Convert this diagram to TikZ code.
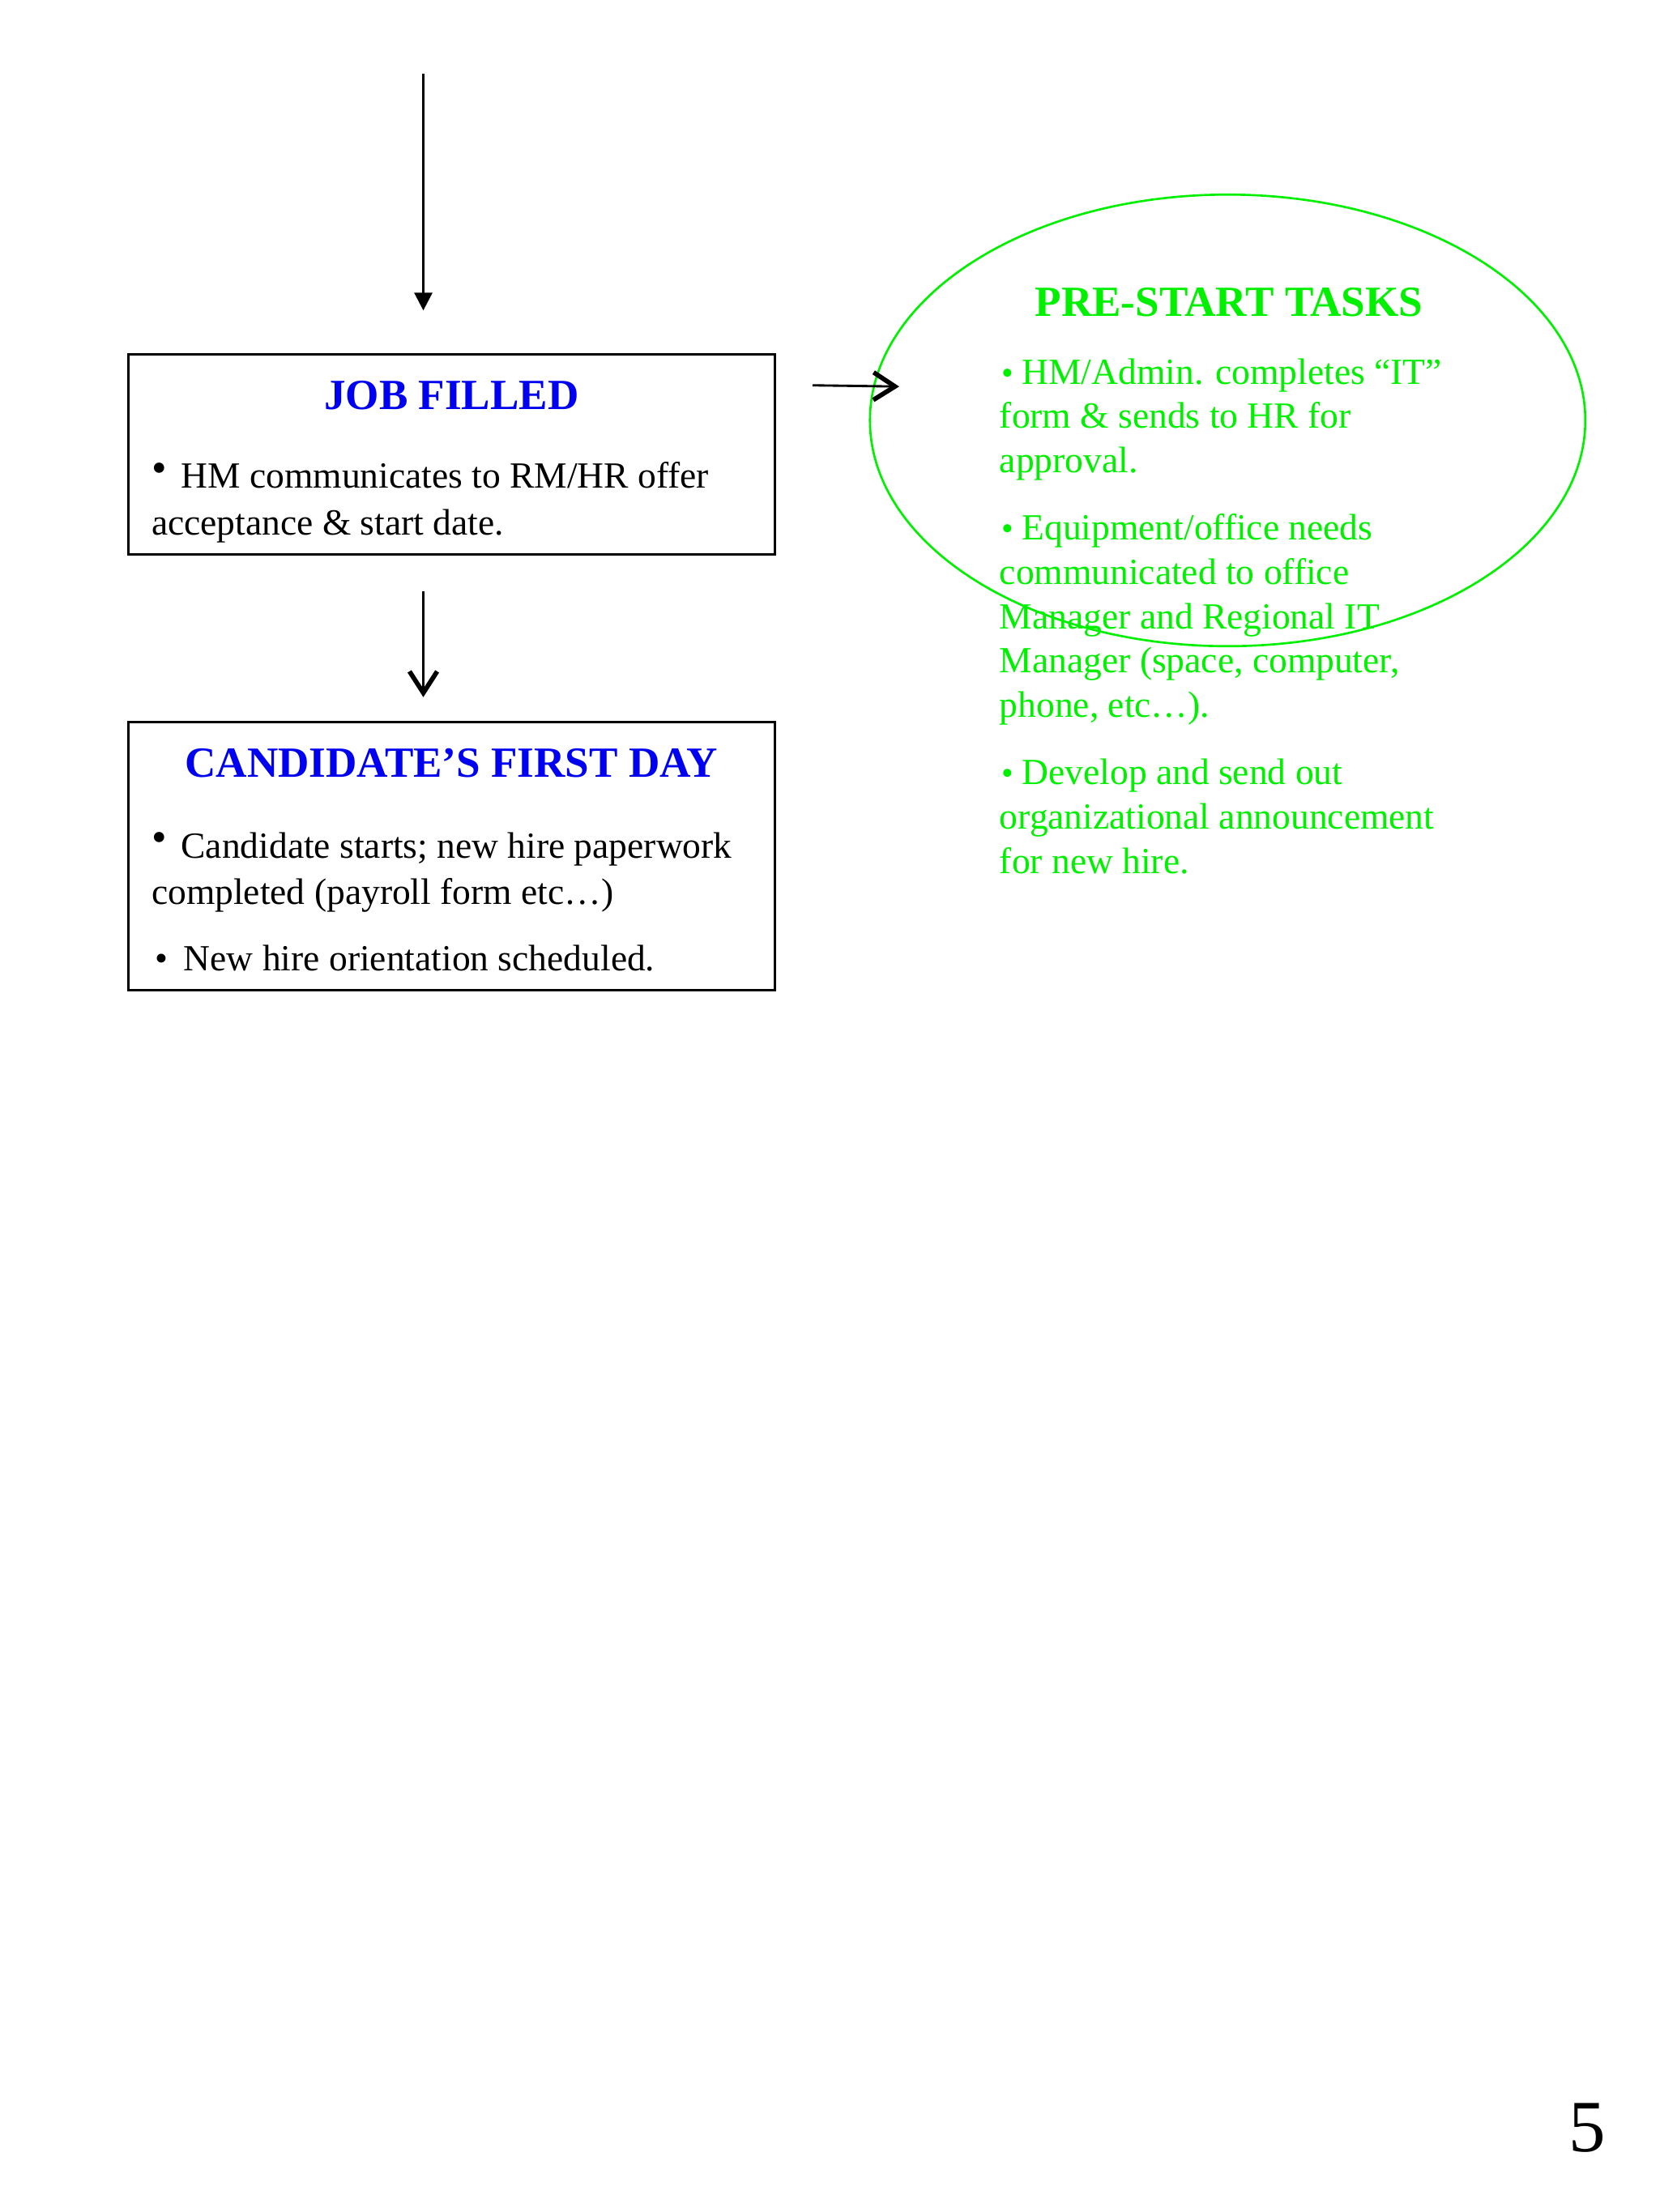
\documentclass[tikz,border=0pt]{standalone}
\usepackage{fontspec}
\setmainfont{Liberation Serif}
\usetikzlibrary{shapes.geometric,arrows.meta,calc}
\definecolor{task green}{RGB}{0,240,0}
\definecolor{title blue}{RGB}{0,0,240}

\begin{document}
\begin{tikzpicture}[
  x=0.4592pt,
  y=-0.4592pt,
  stage box/.style={
    draw,
    line width=0.8pt,
    minimum width=210.3pt,
    inner sep=0pt
  },
  stage title/.style={
    anchor=base,
    inner sep=0pt,
    font=\fontsize{14}{16}\selectfont\bfseries
  },
  stage text/.style={
    anchor=base west,
    align=left,
    inner sep=0pt,
    font=\fontsize{12}{15.15}\selectfont
  },
  flow arrow/.style={
    line width=0.75pt,
    -{Straight Barb[length=7pt,width=9pt,line width=1.5pt]}
  },
]
\useasboundingbox (0,0) rectangle (1176,1568);

\coordinate (entry) at (300,52);

% text nodes sit on the baseline of their last line
\node (job) [stage box, minimum height=65.2pt] at (320,322) {};
\node (job title) [stage title, text=title blue] at (320,290) {JOB FILLED};
\node (job text) [stage text] at (107,379)
  {\makebox[9.6pt][l]{\raisebox{2pt}{\fontsize{14}{14}\selectfont•}}HM communicates to RM/HR offer\\
   acceptance \& start date.};

\node (first day) [stage box, minimum height=87.2pt] at (320,607) {};
\node (first day title) [stage title, text=title blue] at (320,551) {CANDIDATE’S FIRST DAY};
\node (first day text) [stage text] at (107,688)
  {\makebox[9.6pt][l]{\raisebox{2pt}{\fontsize{14}{14}\selectfont•}}Candidate starts; new hire paperwork\\
   completed (payroll form etc…)\\[6.4pt]
   \makebox[10.5pt][l]{\hspace{1.2pt}•}New hire orientation scheduled.};

\node (prestart) [ellipse, draw=task green, line width=0.7pt, minimum width=232.8pt,
  minimum height=147pt, inner sep=0pt] at (870,298) {};
\node (prestart title) [stage title, text=task green] at (871,224) {PRE-START TASKS};
\node (prestart text) [stage text, text=task green, font=\fontsize{12}{14.4}\selectfont] at (708,619)
  {\makebox[7.3pt][l]{\hspace{0.6pt}\fontsize{11}{11}\selectfont•}HM/Admin. completes “IT”\\
   form \& sends to HR for\\
   approval.\\[7.6pt]
   \makebox[7.3pt][l]{\hspace{0.6pt}\fontsize{11}{11}\selectfont•}Equipment/office needs\\
   communicated to office\\
   Manager and Regional IT\\
   Manager (space, computer,\\
   phone, etc…).\\[7.6pt]
   \makebox[7.3pt][l]{\hspace{0.6pt}\fontsize{11}{11}\selectfont•}Develop and send out\\
   organizational announcement\\
   for new hire.};

\node (page number) [anchor=base, inner sep=0pt, font=\fontsize{24}{24}\selectfont] at (1125,1525) {5};

\draw[line width=0.8pt, -{Triangle[length=5.8pt,width=5.8pt]}, shorten >=13.8pt]
  (entry) -- (entry |- job.north);
\draw[flow arrow, shorten <=11.5pt, shorten >=7.8pt]
  (job.south -| entry) -- (first day.north -| entry);
\draw[flow arrow] ($(job.north east)+(26,23)$) -- ($(prestart.west)+(21.5,-24)$);
\end{tikzpicture}
\end{document}
